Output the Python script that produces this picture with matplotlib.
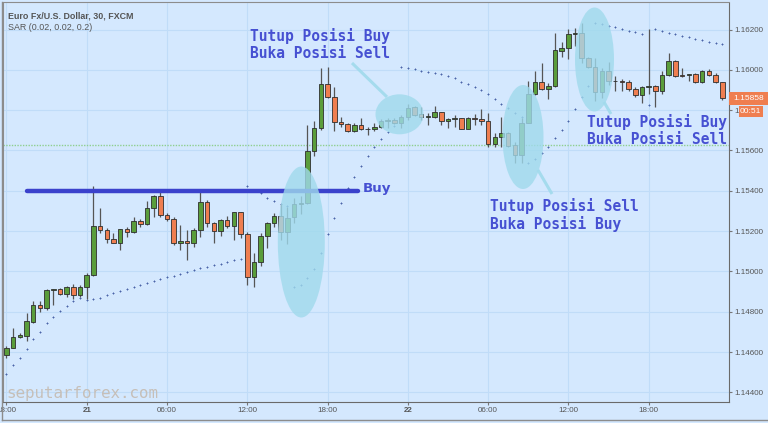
import matplotlib.pyplot as plt
from matplotlib.patches import Ellipse, Rectangle
from matplotlib.transforms import blended_transform_factory

# EUR/USD 30-minute bars, index 0 = 21 Jul 00:00 (first bar 20 Jul 18:00)
bar_index = list(range(-12, 96))

opens = [1.14585, 1.14621, 1.14675, 1.14681, 1.14750, 1.14833, 1.14818, 1.14906, 1.14911, 1.14888,
         1.14923, 1.14884, 1.14921, 1.14982, 1.15224, 1.15205, 1.15161, 1.15139, 1.15209, 1.15197,
         1.15248, 1.15233, 1.15314, 1.15374, 1.15281, 1.15258, 1.15139, 1.15151, 1.15142, 1.15204,
         1.15344, 1.15241, 1.15200, 1.15253, 1.15227, 1.15293, 1.15184, 1.14974, 1.15046, 1.15175,
         1.15238, 1.15275, 1.15197, 1.15268, 1.15333, 1.15338, 1.15597, 1.15710, 1.15928, 1.15863,
         1.15741, 1.15730, 1.15696, 1.15726, 1.15708, 1.15705, 1.15715, 1.15747, 1.15751, 1.15736,
         1.15764, 1.15814, 1.15779, 1.15768, 1.15764, 1.15789, 1.15747, 1.15756, 1.15759, 1.15706,
         1.15762, 1.15756, 1.15747, 1.15632, 1.15665, 1.15685, 1.15625, 1.15576, 1.15737, 1.15880,
         1.15938, 1.15903, 1.15919, 1.16095, 1.16108, 1.16176, 1.16181, 1.16057, 1.16012, 1.15888,
         1.15994, 1.15943, 1.15944, 1.15938, 1.15903, 1.15875, 1.15916, 1.15919, 1.15895, 1.15974,
         1.16043, 1.15974, 1.15973, 1.15979, 1.15941, 1.15995, 1.15974, 1.15938]
highs = [1.14630, 1.14719, 1.14696, 1.14795, 1.14853, 1.14853, 1.14912, 1.14911, 1.14917, 1.14927,
         1.14937, 1.14932, 1.14993, 1.15423, 1.15314, 1.15215, 1.15192, 1.15210, 1.15222, 1.15271,
         1.15258, 1.15350, 1.15379, 1.15395, 1.15288, 1.15268, 1.15230, 1.15205, 1.15215, 1.15395,
         1.15354, 1.15246, 1.15258, 1.15275, 1.15293, 1.15293, 1.15197, 1.15093, 1.15192, 1.15246,
         1.15288, 1.15334, 1.15321, 1.15362, 1.15374, 1.15726, 1.15747, 1.16007, 1.16015, 1.15913,
         1.15767, 1.15735, 1.15735, 1.15759, 1.15718, 1.15737, 1.15754, 1.15759, 1.15759, 1.15776,
         1.15829, 1.15820, 1.15817, 1.15784, 1.15820, 1.15792, 1.15762, 1.15776, 1.15762, 1.15767,
         1.15781, 1.15804, 1.15784, 1.15688, 1.15767, 1.15693, 1.15643, 1.15759, 1.15946, 1.15995,
         1.16035, 1.15933, 1.16184, 1.16139, 1.16201, 1.16206, 1.16233, 1.16065, 1.16057, 1.16007,
         1.16040, 1.15969, 1.15956, 1.15949, 1.15913, 1.15919, 1.16201, 1.15924, 1.15995, 1.16085,
         1.16048, 1.16007, 1.15979, 1.15982, 1.15999, 1.16002, 1.15982, 1.15941]
lows = [1.14570, 1.14620, 1.14671, 1.14656, 1.14745, 1.14800, 1.14808, 1.14833, 1.14883, 1.14874,
        1.14863, 1.14874, 1.14861, 1.14978, 1.15189, 1.15142, 1.15139, 1.15106, 1.15169, 1.15192,
        1.15222, 1.15230, 1.15268, 1.15268, 1.15251, 1.15131, 1.15106, 1.15056, 1.15122, 1.15172,
        1.15222, 1.15139, 1.15177, 1.15214, 1.15156, 1.15164, 1.14931, 1.14924, 1.15027, 1.15114,
        1.15222, 1.15156, 1.15136, 1.15238, 1.15285, 1.15333, 1.15572, 1.15701, 1.15858, 1.15698,
        1.15718, 1.15693, 1.15693, 1.15701, 1.15676, 1.15698, 1.15710, 1.15710, 1.15731, 1.15710,
        1.15751, 1.15771, 1.15751, 1.15726, 1.15759, 1.15726, 1.15710, 1.15718, 1.15705, 1.15705,
        1.15726, 1.15726, 1.15615, 1.15618, 1.15618, 1.15618, 1.15536, 1.15536, 1.15734, 1.15875,
        1.15900, 1.15854, 1.15916, 1.16065, 1.16052, 1.16118, 1.16032, 1.16007, 1.15845, 1.15858,
        1.15924, 1.15896, 1.15896, 1.15896, 1.15863, 1.15834, 1.15880, 1.15817, 1.15878, 1.15969,
        1.15966, 1.15963, 1.15946, 1.15936, 1.15936, 1.15969, 1.15933, 1.15850]
closes = [1.14621, 1.14675, 1.14683, 1.14754, 1.14833, 1.14820, 1.14908, 1.14911, 1.14888, 1.14923,
          1.14884, 1.14923, 1.14982, 1.15224, 1.15204, 1.15161, 1.15139, 1.15209, 1.15197, 1.15248,
          1.15233, 1.15314, 1.15374, 1.15281, 1.15258, 1.15139, 1.15151, 1.15142, 1.15205, 1.15344,
          1.15241, 1.15200, 1.15253, 1.15227, 1.15293, 1.15184, 1.14974, 1.15047, 1.15175, 1.15238,
          1.15275, 1.15197, 1.15266, 1.15333, 1.15338, 1.15597, 1.15710, 1.15928, 1.15863, 1.15739,
          1.15731, 1.15696, 1.15726, 1.15708, 1.15705, 1.15715, 1.15747, 1.15751, 1.15736, 1.15764,
          1.15812, 1.15776, 1.15764, 1.15771, 1.15789, 1.15747, 1.15756, 1.15759, 1.15706, 1.15762,
          1.15754, 1.15746, 1.15632, 1.15665, 1.15685, 1.15622, 1.15576, 1.15734, 1.15880, 1.15938,
          1.15903, 1.15919, 1.16098, 1.16108, 1.16177, 1.16181, 1.16057, 1.16012, 1.15888, 1.15994,
          1.15943, 1.15946, 1.15938, 1.15903, 1.15875, 1.15916, 1.15919, 1.15895, 1.15974, 1.16043,
          1.15969, 1.15969, 1.15977, 1.15941, 1.15995, 1.15974, 1.15938, 1.15858]

# parabolic SAR (0.02, 0.02, 0.2)
sar = [1.14491, 1.14536, 1.14572, 1.14615, 1.14663, 1.14702, 1.14742, 1.14776, 1.14804, 1.14830,
       1.14853, 1.14868, 1.14860, 1.14861, 1.14869, 1.14881, 1.14891, 1.14903, 1.14914, 1.14925,
       1.14933, 1.14943, 1.14953, 1.14962, 1.14972, 1.14979, 1.14988, 1.14998, 1.15008, 1.15017,
       1.15023, 1.15030, 1.15038, 1.15048, 1.15056, 1.15063, 1.15423, 1.15404, 1.15387, 1.15365,
       1.15351, 1.15337, 1.15324, 1.14921, 1.14932, 1.14966, 1.15012, 1.15090, 1.15184, 1.15267,
       1.15339, 1.15412, 1.15467, 1.15522, 1.15573, 1.15618, 1.15657, 1.15693, 1.15721, 1.16015,
       1.16007, 1.16002, 1.15995, 1.15990, 1.15982, 1.15978, 1.15968, 1.15959, 1.15941, 1.15929,
       1.15916, 1.15900, 1.15880, 1.15857, 1.15830, 1.15809, 1.15786, 1.15766, 1.15536, 1.15556,
       1.15586, 1.15615, 1.15660, 1.15701, 1.15747, 1.15804, 1.15865, 1.15919, 1.16233, 1.16225,
       1.16217, 1.16211, 1.16202, 1.16194, 1.16186, 1.16176, 1.15825, 1.16201, 1.16191, 1.16184,
       1.16176, 1.16169, 1.16161, 1.16153, 1.16148, 1.16139, 1.16134, 1.16129]

time_ticks = [-12, 0, 12, 24, 36, 48, 60, 72, 84]
time_labels = ['18:00', '21', '06:00', '12:00', '18:00', '22', '06:00', '12:00', '18:00']
price_ticks = [1.144, 1.146, 1.148, 1.150, 1.152, 1.154, 1.156, 1.158, 1.160, 1.162]

buy_level = 1.154
prev_close = 1.15627

bg = '#d4e8fe'
up_col = '#5a9d3b'
down_col = '#ef7e50'
note_col = '#4650d2'
bubble = '#a0daec'

fig = plt.figure(figsize=(7.68, 4.23), dpi=100, facecolor=bg)
W, H = 768, 423
ax = fig.add_axes([2.5 / W, 1 - 401.5 / H, 726.5 / W, 399 / H], facecolor=bg)

ax.set_xlim(-12.59, 96.01)
ax.set_ylim(1.14355, 1.16334)

# candles
for k, o, h, l, c in zip(bar_index, opens, highs, lows, closes):
    col = up_col if c >= o else down_col
    ax.vlines(k, l, h, color='#555555', lw=0.9, zorder=3)
    ax.bar(k, max(abs(c - o), 0.000012), bottom=min(o, c), width=0.68,
           color=col, edgecolor='#2e2e2e', linewidth=0.6, zorder=4)

ax.plot(bar_index, sar, '+', color='#4a64a8', markersize=2.1, mew=0.7, zorder=2)

ax.axhline(prev_close, color='#8fcf8f', lw=1, ls=(0, (1, 1)), zorder=1.5)
ax.hlines(buy_level, -8.97, 40.5, color='#3b42cc', lw=3.2, capstyle='round', zorder=5)

ax.set_xticks(time_ticks)
ax.set_xticklabels(time_labels)
ax.set_yticks(price_ticks)
ax.set_yticklabels(['%.5f' % p for p in price_ticks])
ax.yaxis.tick_right()
ax.grid(color='#c0dcf8', lw=0.8, zorder=0)
ax.set_axisbelow(True)
ax.tick_params(axis='both', length=2, width=0.8, color='#777777',
               labelsize=5.8, labelcolor='#555555', pad=2)
for lab in ax.get_xticklabels():
    lab.set_family('Liberation Sans')
    if lab.get_text() in ('21', '22'):
        lab.set_fontweight('bold')
for lab in ax.get_yticklabels():
    lab.set_family('Liberation Sans')
for side in ('left', 'top'):
    ax.spines[side].set_color('#8c8c8c')
for side in ('bottom', 'right'):
    ax.spines[side].set_color('#6a6a6a')

# last price tags on the price scale
tr = blended_transform_factory(ax.transAxes, ax.transData)
ax.add_patch(Rectangle((1.0, closes[-1] - 0.00032), 39 / 726.5, 0.00064, transform=tr,
                       facecolor=down_col, edgecolor='none', clip_on=False, zorder=6))
ax.text(1.0 + 19.5 / 726.5, closes[-1], '%.5f' % closes[-1], transform=tr, ha='center',
        va='center', color='white', fontsize=6, family='Liberation Sans', zorder=7)
ax.add_patch(Rectangle((1.0 + 9.5 / 726.5, closes[-1] - 0.00091), 24 / 726.5, 0.00054,
                       transform=tr, facecolor=down_col, edgecolor='none', clip_on=False, zorder=6))
ax.text(1.0 + 21.5 / 726.5, closes[-1] - 0.00064, '00:51', transform=tr, ha='center',
        va='center', color='white', fontsize=6, family='Liberation Sans', zorder=7)

# overlay in pixel coordinates for the drawn notes
ov = fig.add_axes([0, 0, 1, 1], zorder=5)
ov.set_xlim(0, W)
ov.set_ylim(H, 0)
ov.axis('off')
ov.patch.set_alpha(0)

for cx, cy, ew, eh in [(301.3, 242, 47, 151), (399.5, 114.3, 48, 40),
                       (523, 137, 41, 104), (594.5, 59.5, 39, 104)]:
    ov.add_patch(Ellipse((cx, cy), ew, eh, facecolor=bubble, edgecolor='none', alpha=0.8))
for xs, ys in [([352, 387], [63, 97]), ([538, 552], [170, 194]), ([604, 611], [102, 114])]:
    ov.plot(xs, ys, color=bubble, lw=2.2, alpha=0.9, solid_capstyle='butt')

mono = dict(family='DejaVu Sans Mono', fontweight='bold', fontsize=10.5, color=note_col,
            va='baseline', ha='left')
ov.text(250.5, 41, 'Tutup Posisi Buy', **mono)
ov.text(250.5, 58.5, 'Buka Posisi Sell', **mono)
ov.text(586.7, 126.5, 'Tutup Posisi Buy', **mono)
ov.text(586.7, 143.5, 'Buka Posisi Sell', **mono)
ov.text(490, 211, 'Tutup Posisi Sell', **mono)
ov.text(490, 228.5, 'Buka Posisi Buy', **mono)
ov.text(362.5, 192, 'Buy', family='DejaVu Sans', fontweight='bold', fontsize=9.6,
        color=note_col, va='baseline', ha='left')

ov.text(8.5, 18.3, 'Euro Fx/U.S. Dollar, 30, FXCM', family='Liberation Sans', fontweight='bold',
        fontsize=6.4, color='#555555', va='baseline')
ov.text(8.5, 30, 'SAR (0.02, 0.02, 0.2)', family='Liberation Sans', fontsize=6.4,
        color='#555555', va='baseline')
ov.text(6.5, 398, 'seputarforex.com', family='DejaVu Sans Mono', fontsize=11.4,
        color='#c6bfb8', va='baseline')

ov.plot([2, 2], [2, 420], color='#8c8c8c', lw=1)
ov.plot([2, 768], [420, 420], color='#8c8c8c', lw=1)

fig.savefig('out.png', dpi=100, facecolor=bg)
